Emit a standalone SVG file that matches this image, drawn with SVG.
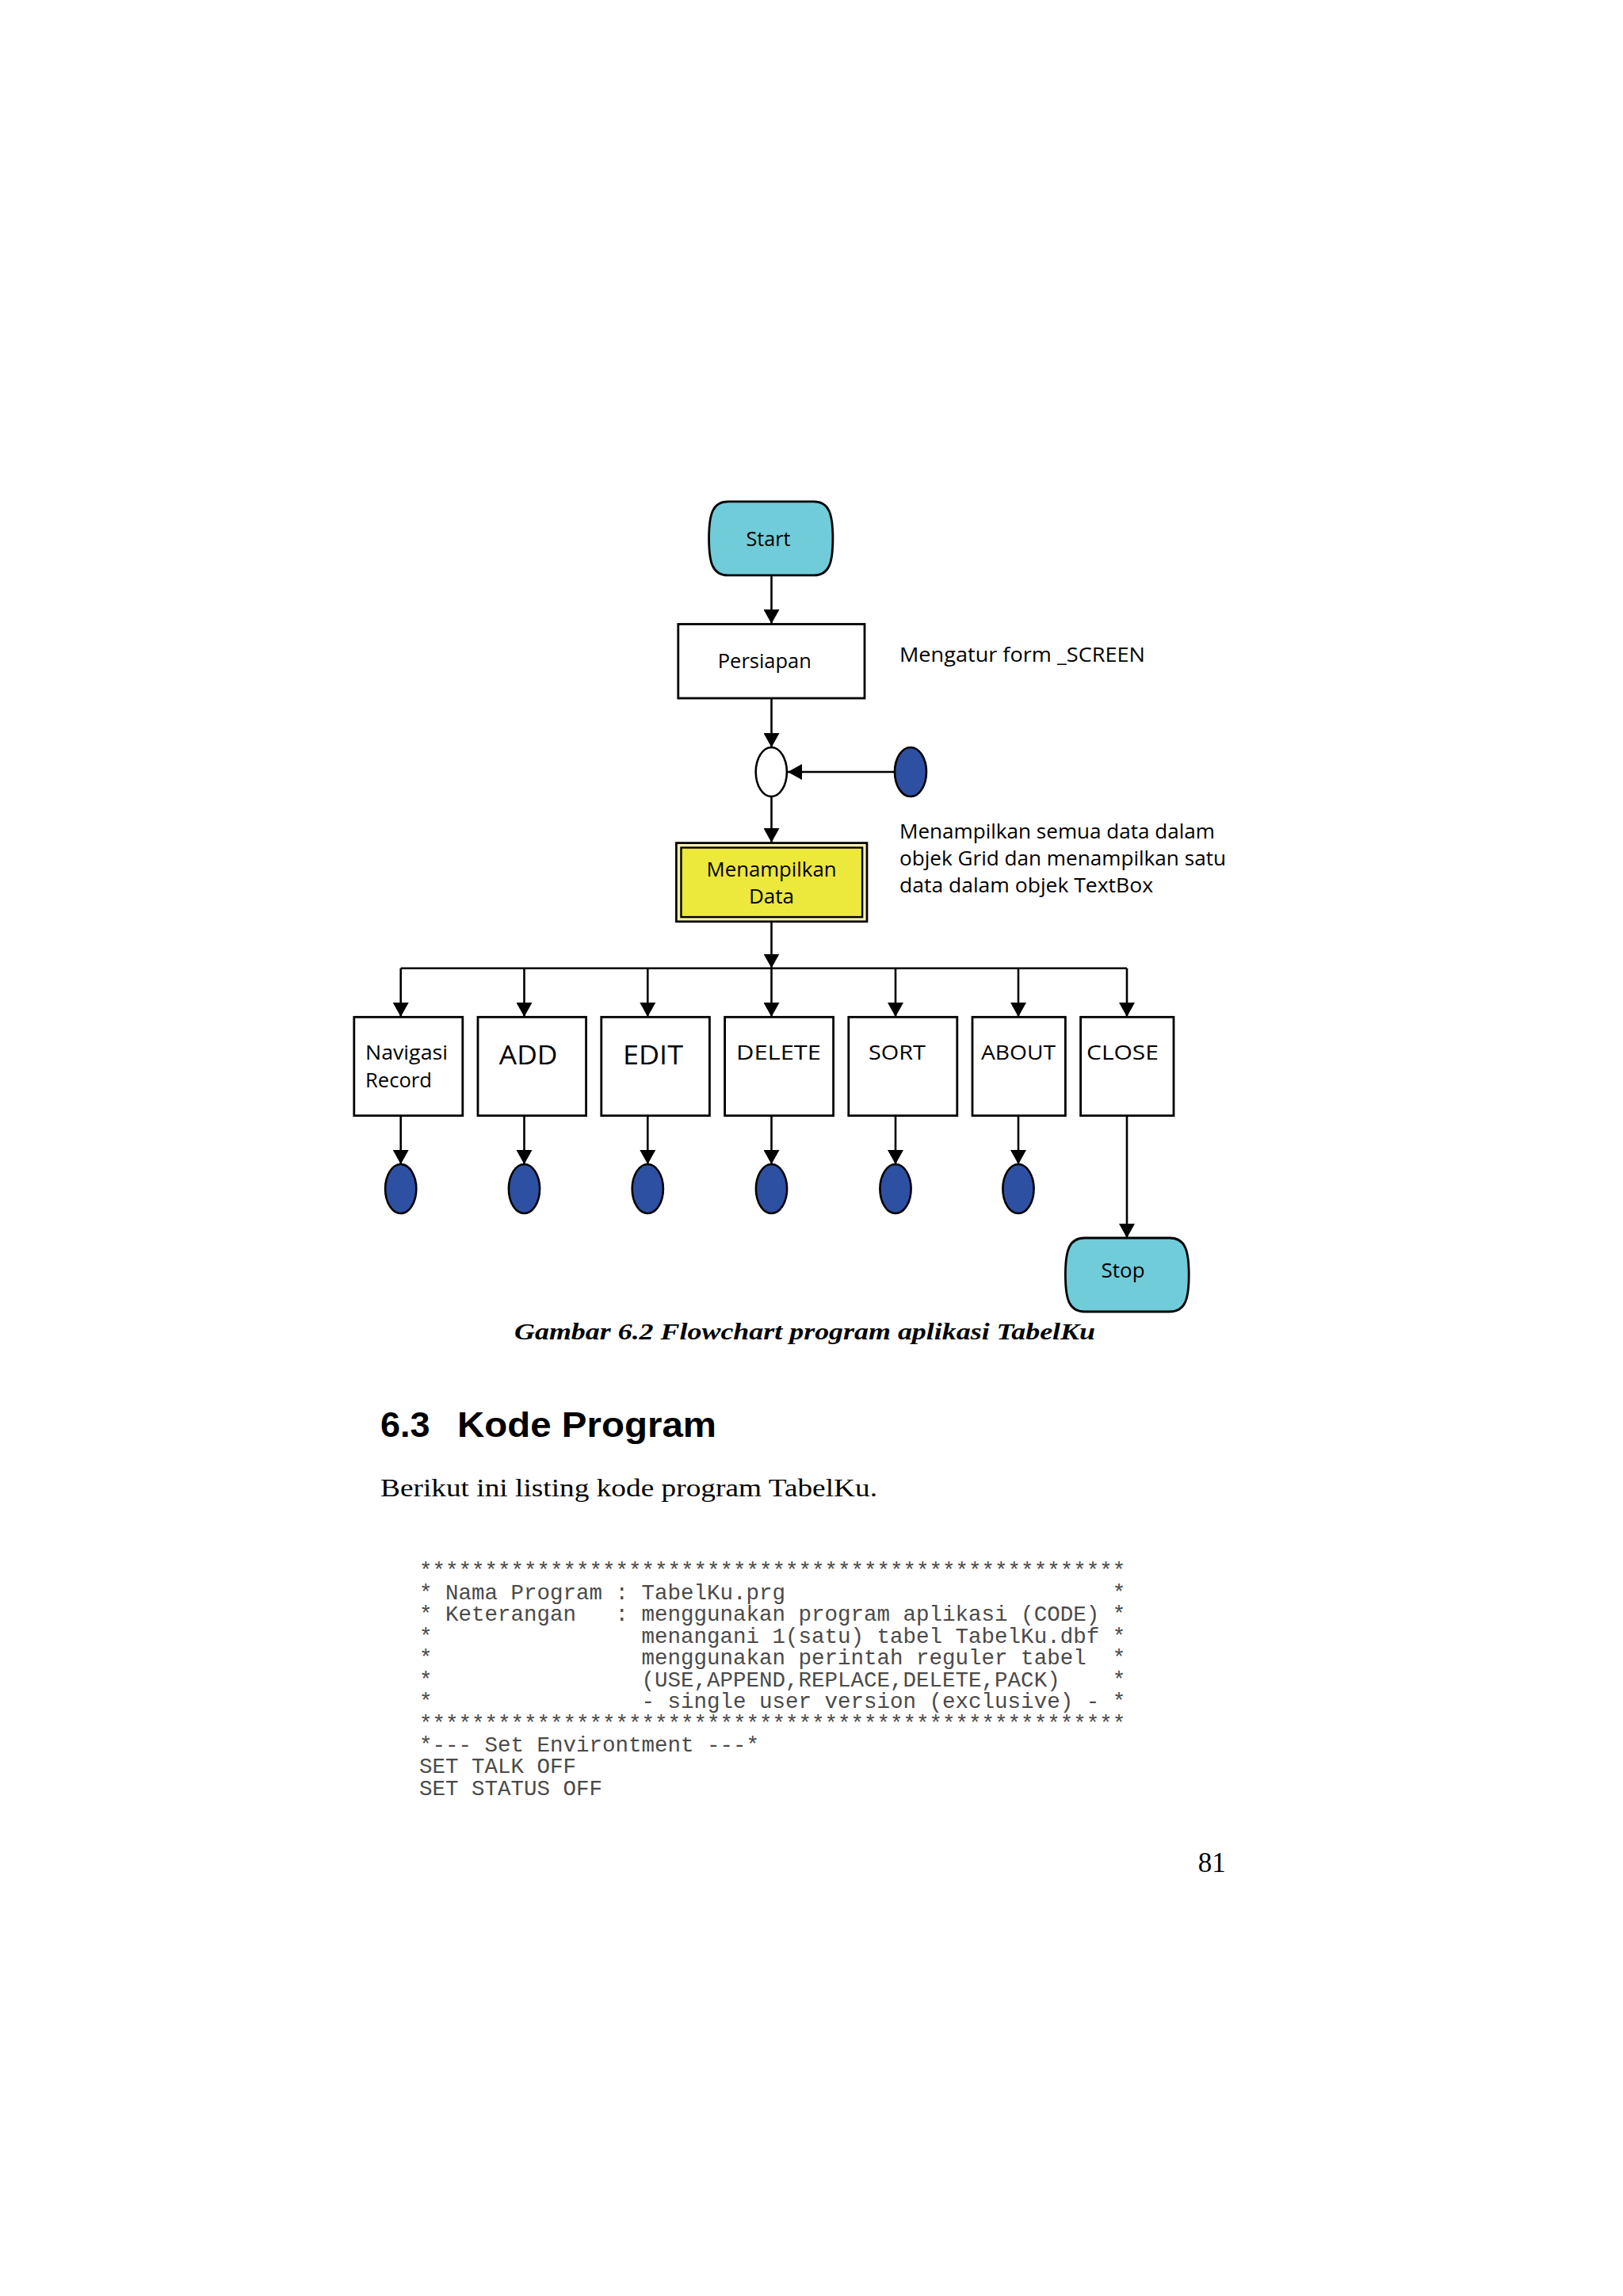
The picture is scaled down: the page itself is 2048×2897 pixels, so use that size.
<svg xmlns="http://www.w3.org/2000/svg" width="2048" height="2897" viewBox="0 0 2048 2897">
<style>
.ln{fill:none;stroke:#000;stroke-width:2.6}
.arr{fill:none;stroke:#000;stroke-width:2.6;marker-end:url(#ah)}
.box{fill:#fff;stroke:#000;stroke-width:2.8}
.term{fill:#70ccd9;stroke:#000;stroke-width:2.8}
.dot{fill:#2e50a2;stroke:#000;stroke-width:2.6}
.lbl{font-family:"Open Sans","Liberation Sans",sans-serif;font-size:26px;fill:#000}
.big{font-family:"Open Sans","Liberation Sans",sans-serif;font-size:32px;fill:#000}
.note{font-family:"Open Sans","Liberation Sans",sans-serif;font-size:26px;fill:#000}
.code{font-family:"Liberation Mono","Courier New",monospace;font-size:27.5px;fill:#4a4a4a;white-space:pre}
</style>
<defs>
<marker id="ah" markerUnits="userSpaceOnUse" markerWidth="20" markerHeight="20" refX="18" refY="10" orient="auto">
<path d="M0,0 L18,10 L0,20 Z" fill="#000"/>
</marker>
</defs>
<rect width="2048" height="2897" fill="#fff"/>

<g id="connectors">
<line class="arr" x1="973.5" y1="726" x2="973.5" y2="787"/>
<line class="arr" x1="973.5" y1="881" x2="973.5" y2="943"/>
<line class="arr" x1="1129" y1="974" x2="994" y2="974"/>
<line class="arr" x1="973.5" y1="1005" x2="973.5" y2="1063"/>
<line class="arr" x1="973.5" y1="1164" x2="973.5" y2="1221.5"/>
<line class="ln" x1="505.7" y1="1221.7" x2="1422" y2="1221.7"/>
<line class="arr" x1="505.7" y1="1221.7" x2="505.7" y2="1283"/>
<line class="arr" x1="661.5" y1="1221.7" x2="661.5" y2="1283"/>
<line class="arr" x1="817.3" y1="1221.7" x2="817.3" y2="1283"/>
<line class="arr" x1="973.5" y1="1221.7" x2="973.5" y2="1283"/>
<line class="arr" x1="1130" y1="1221.7" x2="1130" y2="1283"/>
<line class="arr" x1="1285" y1="1221.7" x2="1285" y2="1283"/>
<line class="arr" x1="1422" y1="1221.7" x2="1422" y2="1283"/>
<line class="arr" x1="505.7" y1="1408" x2="505.7" y2="1469"/>
<line class="arr" x1="661.5" y1="1408" x2="661.5" y2="1469"/>
<line class="arr" x1="817.3" y1="1408" x2="817.3" y2="1469"/>
<line class="arr" x1="973.5" y1="1408" x2="973.5" y2="1469"/>
<line class="arr" x1="1130" y1="1408" x2="1130" y2="1469"/>
<line class="arr" x1="1285" y1="1408" x2="1285" y2="1469"/>
<line class="arr" x1="1422" y1="1408" x2="1422" y2="1562"/>
</g>

<g id="start">
<path class="term" d="M918.6,632.9 H1026.9 C1046.4,632.9 1050.9,648.9 1050.9,679.4 C1050.9,709.9 1046.4,725.9 1026.9,725.9 H918.6 C899.1,725.9 894.6,709.9 894.6,679.4 C894.6,648.9 899.1,632.9 918.6,632.9 Z"/>
<text class="lbl" x="941.5" y="688.6" textLength="56" lengthAdjust="spacingAndGlyphs">Start</text>
</g>

<g id="persiapan">
<rect class="box" x="855.8" y="787.5" width="235.2" height="93.5"/>
<text class="lbl" x="905.8" y="842.8" textLength="118" lengthAdjust="spacingAndGlyphs">Persiapan</text>
</g>

<g id="note-persiapan">
<text class="note" x="1135" y="835" textLength="310" lengthAdjust="spacingAndGlyphs">Mengatur form _SCREEN</text>
</g>

<g id="connector-join">
<ellipse cx="973.3" cy="974" rx="19.6" ry="31" fill="#fff" stroke="#000" stroke-width="2.6"/>
</g>

<g id="connector-return">
<ellipse class="dot" cx="1149" cy="974" rx="20" ry="31"/>
</g>

<g id="menampilkan-data">
<rect x="853.4" y="1063.6" width="240.6" height="99.2" fill="#f6f1a8" stroke="#000" stroke-width="2.7"/>
<rect x="859.5" y="1069.5" width="228.6" height="87.6" fill="#ede83c" stroke="#000" stroke-width="2.4"/>
<text class="lbl" x="973.5" y="1105.7" text-anchor="middle" textLength="164" lengthAdjust="spacingAndGlyphs">Menampilkan</text>
<text class="lbl" x="973.5" y="1140" text-anchor="middle">Data</text>
</g>

<g id="note-menampilkan">
<text class="note" x="1135" y="1058" textLength="398" lengthAdjust="spacingAndGlyphs">Menampilkan semua data dalam</text>
<text class="note" x="1135" y="1092" textLength="412" lengthAdjust="spacingAndGlyphs">objek Grid dan menampilkan satu</text>
<text class="note" x="1135" y="1126" textLength="320" lengthAdjust="spacingAndGlyphs">data dalam objek TextBox</text>
</g>

<g id="navigasi-record">
<rect class="box" x="446.8" y="1283.3" width="137" height="124.4"/>
<text class="lbl" x="461" y="1336.7" textLength="104" lengthAdjust="spacingAndGlyphs">Navigasi</text>
<text class="lbl" x="461" y="1371.7" textLength="84" lengthAdjust="spacingAndGlyphs">Record</text>
</g>
<g id="add">
<rect class="box" x="603" y="1283.3" width="136.6" height="124.4"/>
<text class="big" x="629.8" y="1343.3" textLength="73.7" lengthAdjust="spacingAndGlyphs">ADD</text>
</g>
<g id="edit">
<rect class="box" x="758.8" y="1283.3" width="136.6" height="124.4"/>
<text class="big" x="786" y="1343.3" textLength="76" lengthAdjust="spacingAndGlyphs">EDIT</text>
</g>
<g id="delete">
<rect class="box" x="914.6" y="1283.3" width="137" height="124.4"/>
<text class="lbl" x="929" y="1336.7" textLength="107" lengthAdjust="spacingAndGlyphs">DELETE</text>
</g>
<g id="sort">
<rect class="box" x="1070.8" y="1283.3" width="137" height="124.4"/>
<text class="lbl" x="1096" y="1336.7" textLength="72" lengthAdjust="spacingAndGlyphs">SORT</text>
</g>
<g id="about">
<rect class="box" x="1227" y="1283.3" width="117.4" height="124.4"/>
<text class="lbl" x="1238" y="1336.7" textLength="94" lengthAdjust="spacingAndGlyphs">ABOUT</text>
</g>
<g id="close">
<rect class="box" x="1363.6" y="1283.3" width="117.4" height="124.4"/>
<text class="lbl" x="1371" y="1336.7" textLength="91" lengthAdjust="spacingAndGlyphs">CLOSE</text>
</g>

<g id="end-navigasi"><ellipse class="dot" cx="505.7" cy="1500" rx="19.6" ry="31"/></g>
<g id="end-add"><ellipse class="dot" cx="661.5" cy="1500" rx="19.6" ry="31"/></g>
<g id="end-edit"><ellipse class="dot" cx="817.3" cy="1500" rx="19.6" ry="31"/></g>
<g id="end-delete"><ellipse class="dot" cx="973.5" cy="1500" rx="19.6" ry="31"/></g>
<g id="end-sort"><ellipse class="dot" cx="1130" cy="1500" rx="19.6" ry="31"/></g>
<g id="end-about"><ellipse class="dot" cx="1285" cy="1500" rx="19.6" ry="31"/></g>

<g id="stop">
<path class="term" d="M1368.4,1562 H1476.2 C1495.7,1562 1500.2,1578 1500.2,1608.5 C1500.2,1639 1495.7,1655 1476.2,1655 H1368.4 C1348.9,1655 1344.4,1639 1344.4,1608.5 C1344.4,1578 1348.9,1562 1368.4,1562 Z"/>
<text class="lbl" x="1389.6" y="1611.7" textLength="55" lengthAdjust="spacingAndGlyphs">Stop</text>
</g>

<g id="caption">
<text x="649" y="1690" font-family="Liberation Serif, serif" font-style="italic" font-weight="bold" font-size="30" fill="#000" textLength="733" lengthAdjust="spacingAndGlyphs">Gambar 6.2 Flowchart program aplikasi TabelKu</text>
</g>

<g id="heading">
<text x="480" y="1813" font-family="Liberation Sans, Arial, sans-serif" font-weight="bold" font-size="44" fill="#000" textLength="62.6" lengthAdjust="spacingAndGlyphs">6.3</text>
<text x="577" y="1813" font-family="Liberation Sans, Arial, sans-serif" font-weight="bold" font-size="44" fill="#000" textLength="327" lengthAdjust="spacingAndGlyphs">Kode Program</text>
</g>

<g id="body">
<text x="480" y="1888" font-family="Liberation Serif, serif" font-size="32" fill="#000" textLength="627" lengthAdjust="spacingAndGlyphs">Berikut ini listing kode program TabelKu.</text>
</g>

<g id="code" xml:space="preserve">
<text class="code" x="529" y="1990">******************************************************</text>
<text class="code" x="529" y="2017.5">* Nama Program : TabelKu.prg                         *</text>
<text class="code" x="529" y="2045">* Keterangan   : menggunakan program aplikasi (CODE) *</text>
<text class="code" x="529" y="2072.5">*                menangani 1(satu) tabel TabelKu.dbf *</text>
<text class="code" x="529" y="2100">*                menggunakan perintah reguler tabel  *</text>
<text class="code" x="529" y="2127.5">*                (USE,APPEND,REPLACE,DELETE,PACK)    *</text>
<text class="code" x="529" y="2155">*                - single user version (exclusive) - *</text>
<text class="code" x="529" y="2182.5">******************************************************</text>
<text class="code" x="529" y="2209.5">*--- Set Environtment ---*</text>
<text class="code" x="529" y="2237">SET TALK OFF</text>
<text class="code" x="529" y="2264.5">SET STATUS OFF</text>
</g>

<g id="page-number">
<text x="1511.7" y="2361.7" font-family="Liberation Serif, serif" font-size="35" fill="#000">81</text>
</g>
</svg>
